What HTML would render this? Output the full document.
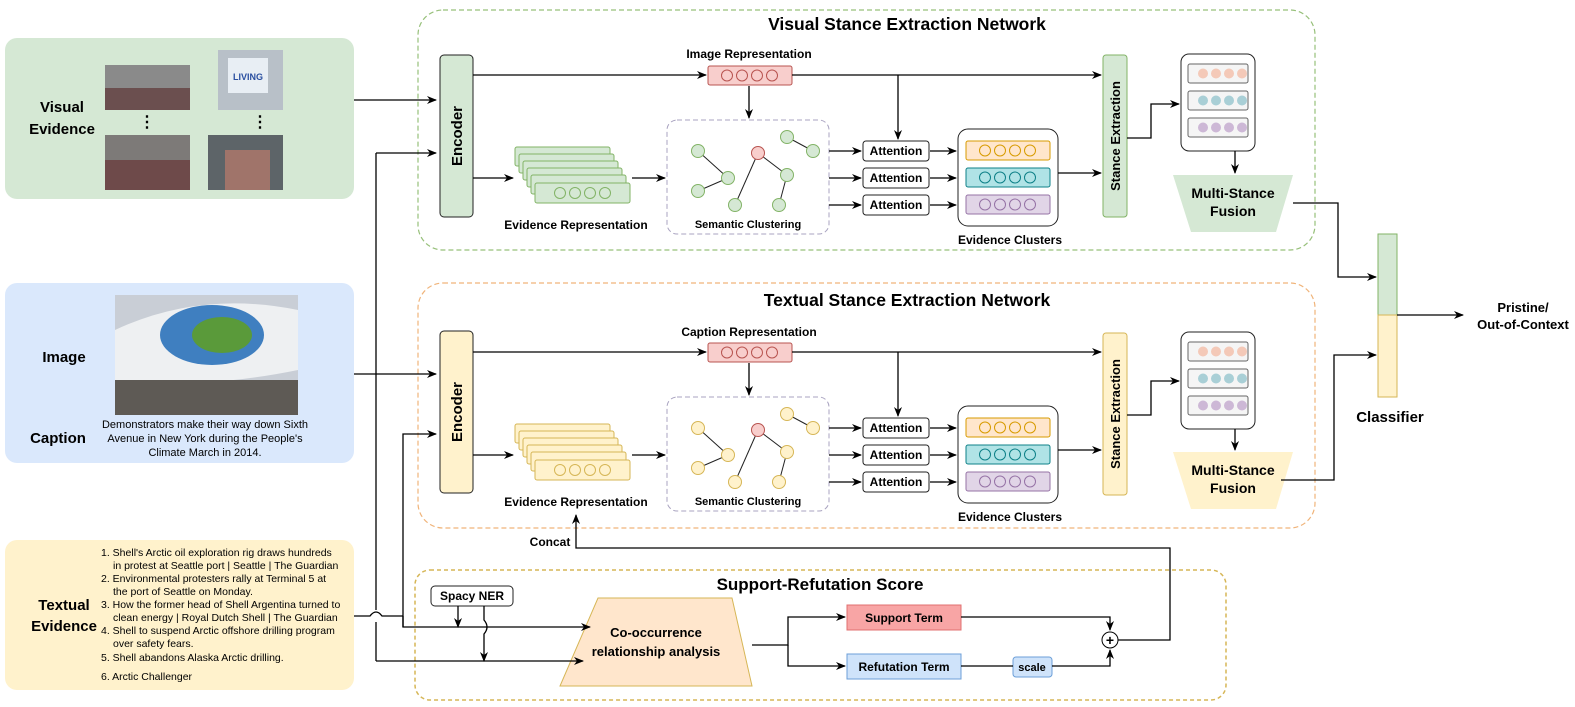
<!DOCTYPE html>
<html><head><meta charset="utf-8"><style>
html,body{margin:0;padding:0;background:#fff;}
svg{display:block;font-family:"Liberation Sans",Arial,sans-serif;}
.b{font-weight:bold;}
</style></head><body>
<svg width="1575" height="707" viewBox="0 0 1575 707" xmlns="http://www.w3.org/2000/svg">
<defs>
<marker id="a" markerWidth="10" markerHeight="8" refX="9" refY="4" orient="auto" markerUnits="userSpaceOnUse"><path d="M0,0 L10,4 L0,8 L3,4 z" fill="#000"/></marker>
<g id="vec"><circle cx="0" cy="0" r="5.5" fill="none"/><circle cx="15" cy="0" r="5.5" fill="none"/><circle cx="30" cy="0" r="5.5" fill="none"/><circle cx="45" cy="0" r="5.5" fill="none"/></g>
</defs>

<!-- left input boxes -->
<rect x="5" y="38" width="349" height="161" rx="12" fill="#d5e8d4"/>
<text x="62" y="112" text-anchor="middle" font-size="15" class="b">Visual</text>
<text x="62" y="134" text-anchor="middle" font-size="15" class="b">Evidence</text>
<rect x="105" y="65" width="85" height="45" fill="#8a8a8a"/><rect x="105" y="88" width="85" height="22" fill="#6b4f4f"/>
<rect x="218" y="50" width="65" height="60" fill="#b8c0c8"/><rect x="228" y="58" width="40" height="35" fill="#e8eef4"/>
<text x="248" y="80" text-anchor="middle" font-size="9" fill="#2a4fa0" class="b">LIVING</text>
<rect x="105" y="135" width="85" height="55" fill="#7d7a78"/><rect x="105" y="160" width="85" height="30" fill="#6e4a4a"/>
<rect x="208" y="135" width="75" height="55" fill="#5d6468"/><rect x="225" y="150" width="45" height="40" fill="#a0746a"/>
<text x="147" y="127" text-anchor="middle" font-size="16" class="b">⋮</text>
<text x="260" y="127" text-anchor="middle" font-size="16" class="b">⋮</text>

<rect x="5" y="283" width="349" height="180" rx="12" fill="#dae8fc"/>
<text x="64" y="362" text-anchor="middle" font-size="15" class="b">Image</text>
<text x="58" y="443" text-anchor="middle" font-size="15" class="b">Caption</text>
<rect x="115" y="295" width="183" height="120" fill="#c9ced6"/>
<path d="M115,330 Q200,290 298,310 L298,370 Q200,390 115,380 z" fill="#eef0f2"/>
<ellipse cx="212" cy="335" rx="52" ry="30" fill="#3f7fc0"/>
<ellipse cx="222" cy="335" rx="30" ry="18" fill="#5a9a3a"/>
<rect x="115" y="380" width="183" height="35" fill="#5e5a55"/>
<text font-size="11" text-anchor="middle"><tspan x="205" y="428">Demonstrators make their way down Sixth</tspan><tspan x="205" y="442">Avenue in New York during the People's</tspan><tspan x="205" y="456">Climate March in 2014.</tspan></text>

<rect x="5" y="540" width="349" height="150" rx="12" fill="#fff2cc"/>
<text x="64" y="610" text-anchor="middle" font-size="15" class="b">Textual</text>
<text x="64" y="631" text-anchor="middle" font-size="15" class="b">Evidence</text>
<text font-size="10.5"><tspan x="101" y="556">1. Shell's Arctic oil exploration rig draws hundreds</tspan><tspan x="113" y="569">in protest at Seattle port | Seattle | The Guardian</tspan><tspan x="101" y="582">2. Environmental protesters rally at Terminal 5 at</tspan><tspan x="113" y="595">the port of Seattle on Monday.</tspan><tspan x="101" y="608">3. How the former head of Shell Argentina turned to</tspan><tspan x="113" y="621">clean energy | Royal Dutch Shell | The Guardian</tspan><tspan x="101" y="634">4. Shell to suspend Arctic offshore drilling program</tspan><tspan x="113" y="647">over safety fears.</tspan><tspan x="101" y="661">5. Shell abandons Alaska Arctic drilling.</tspan><tspan x="101" y="680">6. Arctic Challenger</tspan></text>

<!-- dashed containers -->
<rect x="418" y="10" width="897" height="240" rx="25" fill="none" stroke="#97c07a" stroke-dasharray="5,3" stroke-width="1.2"/>
<text x="907" y="30" text-anchor="middle" font-size="17.5" class="b">Visual Stance Extraction Network</text>
<rect x="418" y="283" width="897" height="245" rx="25" fill="none" stroke="#f0b47a" stroke-dasharray="5,3" stroke-width="1.2"/>
<text x="907" y="306" text-anchor="middle" font-size="17.5" class="b">Textual Stance Extraction Network</text>
<rect x="415" y="570" width="811" height="130" rx="15" fill="none" stroke="#d6b656" stroke-dasharray="4,3" stroke-width="1.5"/>
<text x="820" y="590" text-anchor="middle" font-size="17" class="b">Support-Refutation Score</text>

<!-- VISUAL -->
<g>
<rect x="440" y="55" width="33" height="162" rx="4" fill="#d5e8d4" stroke="#222"/>
<text transform="translate(462,136) rotate(-90)" text-anchor="middle" font-size="15" class="b">Encoder</text>
<text x="749" y="58" text-anchor="middle" font-size="12" class="b">Image Representation</text>
<rect x="708" y="66" width="84" height="19" rx="2" fill="#f8cecc" stroke="#b85450"/>
<use href="#vec" x="727" y="75.5" stroke="#b85450"/>
<g fill="#d5e8d4" stroke="#82b366">
<rect x="515" y="147" width="95" height="19" rx="2"/><rect x="519" y="154" width="95" height="19" rx="2"/><rect x="523" y="161" width="95" height="19" rx="2"/><rect x="527" y="168" width="95" height="19" rx="2"/><rect x="531" y="175" width="95" height="19" rx="2"/><rect x="535" y="183" width="95" height="20" rx="2"/>
</g>
<use href="#vec" x="560" y="193" stroke="#82b366"/>
<text x="576" y="229" text-anchor="middle" font-size="12" class="b">Evidence Representation</text>
<rect x="667" y="120" width="162" height="114" rx="10" fill="none" stroke="#a9a3c0" stroke-dasharray="5,3"/>
<text x="748" y="228" text-anchor="middle" font-size="11" class="b">Semantic Clustering</text>
<g stroke="#222" stroke-width="1"><line x1="698" y1="151" x2="728" y2="178"/><line x1="698" y1="191" x2="728" y2="178"/><line x1="758" y1="153" x2="735" y2="205"/><line x1="758" y1="153" x2="787" y2="175"/><line x1="787" y1="175" x2="779" y2="205"/><line x1="787" y1="137" x2="813" y2="151"/></g>
<g fill="#d5e8d4" stroke="#82b366"><circle cx="698" cy="151" r="6.5"/><circle cx="728" cy="178" r="6.5"/><circle cx="698" cy="191" r="6.5"/><circle cx="787" cy="137" r="6.5"/><circle cx="813" cy="151" r="6.5"/><circle cx="787" cy="175" r="6.5"/><circle cx="735" cy="205" r="6.5"/><circle cx="779" cy="205" r="6.5"/></g>
<circle cx="758" cy="153" r="6.5" fill="#f8cecc" stroke="#b85450"/>
<g fill="#fff" stroke="#222"><rect x="863" y="141" width="66" height="20" rx="3"/><rect x="863" y="168" width="66" height="20" rx="3"/><rect x="863" y="195" width="66" height="20" rx="3"/></g>
<g font-size="12" class="b" text-anchor="middle"><text x="896" y="155">Attention</text><text x="896" y="182">Attention</text><text x="896" y="209">Attention</text></g>
<rect x="958" y="129" width="100" height="97" rx="10" fill="#fff" stroke="#222"/>
<rect x="966" y="141" width="84" height="19" rx="2" fill="#ffe6cc" stroke="#d79b00"/><use href="#vec" x="985" y="150.5" stroke="#d79b00"/>
<rect x="966" y="168" width="84" height="19" rx="2" fill="#b0e3e6" stroke="#0e8088"/><use href="#vec" x="985" y="177.5" stroke="#0e8088"/>
<rect x="966" y="195" width="84" height="19" rx="2" fill="#e1d5e7" stroke="#9673a6"/><use href="#vec" x="985" y="204.5" stroke="#9673a6"/>
<text x="1010" y="244" text-anchor="middle" font-size="12" class="b">Evidence Clusters</text>
<rect x="1103" y="55" width="24" height="162" rx="3" fill="#d5e8d4" stroke="#82b366"/>
<text transform="translate(1120,136) rotate(-90)" text-anchor="middle" font-size="13" class="b">Stance Extraction</text>
<rect x="1181" y="54" width="74" height="97" rx="8" fill="#fff" stroke="#222"/>
<g fill="#f5f5f5" stroke="#666"><rect x="1188" y="64" width="60" height="19" rx="2"/><rect x="1188" y="91" width="60" height="19" rx="2"/><rect x="1188" y="118" width="60" height="19" rx="2"/></g>
<g fill="#f4c9b8"><circle cx="1203" cy="73.5" r="5"/><circle cx="1216" cy="73.5" r="5"/><circle cx="1229" cy="73.5" r="5"/><circle cx="1242" cy="73.5" r="5"/></g>
<g fill="#a9cfd6"><circle cx="1203" cy="100.5" r="5"/><circle cx="1216" cy="100.5" r="5"/><circle cx="1229" cy="100.5" r="5"/><circle cx="1242" cy="100.5" r="5"/></g>
<g fill="#cdb8d6"><circle cx="1203" cy="127.5" r="5"/><circle cx="1216" cy="127.5" r="5"/><circle cx="1229" cy="127.5" r="5"/><circle cx="1242" cy="127.5" r="5"/></g>
<path d="M1173,175 L1293,175 L1276,232 L1191,232 z" fill="#d5e8d4"/>
<text x="1233" y="198" text-anchor="middle" font-size="14" class="b">Multi-Stance</text>
<text x="1233" y="216" text-anchor="middle" font-size="14" class="b">Fusion</text>
<g stroke="#000" stroke-width="1.3" fill="none" marker-end="url(#a)">
<path d="M473,75 L706,75"/><path d="M792,75 L1101,75"/><path d="M898,75 L898,139"/><path d="M749,86 L749,118"/>
<path d="M473,178 L513,178"/><path d="M632,178 L665,178"/>
<path d="M829,151 L861,151"/><path d="M829,178 L861,178"/><path d="M829,205 L861,205"/>
<path d="M930,151 L956,151"/><path d="M930,178 L956,178"/><path d="M930,205 L956,205"/>
<path d="M1058,173 L1101,173"/><path d="M1127,138 L1151,138 L1151,104 L1179,104"/><path d="M1235,151 L1235,173"/>
</g>
</g>

<!-- TEXTUAL -->
<g>
<rect x="440" y="331" width="33" height="162" rx="4" fill="#fff2cc" stroke="#222"/>
<text transform="translate(462,412) rotate(-90)" text-anchor="middle" font-size="15" class="b">Encoder</text>
<text x="749" y="336" text-anchor="middle" font-size="12" class="b">Caption Representation</text>
<rect x="708" y="343" width="84" height="19" rx="2" fill="#f8cecc" stroke="#b85450"/>
<use href="#vec" x="727" y="352.5" stroke="#b85450"/>
<g fill="#fff2cc" stroke="#d6b656">
<rect x="515" y="424" width="95" height="19" rx="2"/><rect x="519" y="431" width="95" height="19" rx="2"/><rect x="523" y="438" width="95" height="19" rx="2"/><rect x="527" y="445" width="95" height="19" rx="2"/><rect x="531" y="452" width="95" height="19" rx="2"/><rect x="535" y="460" width="95" height="20" rx="2"/>
</g>
<use href="#vec" x="560" y="470" stroke="#d6b656"/>
<text x="576" y="506" text-anchor="middle" font-size="12" class="b">Evidence Representation</text>
<rect x="667" y="397" width="162" height="114" rx="10" fill="none" stroke="#a9a3c0" stroke-dasharray="5,3"/>
<text x="748" y="505" text-anchor="middle" font-size="11" class="b">Semantic Clustering</text>
<g stroke="#222" stroke-width="1"><line x1="698" y1="428" x2="728" y2="455"/><line x1="698" y1="468" x2="728" y2="455"/><line x1="758" y1="430" x2="735" y2="482"/><line x1="758" y1="430" x2="787" y2="452"/><line x1="787" y1="452" x2="779" y2="482"/><line x1="787" y1="414" x2="813" y2="428"/></g>
<g fill="#fff2cc" stroke="#d6b656"><circle cx="698" cy="428" r="6.5"/><circle cx="728" cy="455" r="6.5"/><circle cx="698" cy="468" r="6.5"/><circle cx="787" cy="414" r="6.5"/><circle cx="813" cy="428" r="6.5"/><circle cx="787" cy="452" r="6.5"/><circle cx="735" cy="482" r="6.5"/><circle cx="779" cy="482" r="6.5"/></g>
<circle cx="758" cy="430" r="6.5" fill="#f8cecc" stroke="#b85450"/>
<g fill="#fff" stroke="#222"><rect x="863" y="418" width="66" height="20" rx="3"/><rect x="863" y="445" width="66" height="20" rx="3"/><rect x="863" y="472" width="66" height="20" rx="3"/></g>
<g font-size="12" class="b" text-anchor="middle"><text x="896" y="432">Attention</text><text x="896" y="459">Attention</text><text x="896" y="486">Attention</text></g>
<rect x="958" y="406" width="100" height="97" rx="10" fill="#fff" stroke="#222"/>
<rect x="966" y="418" width="84" height="19" rx="2" fill="#ffe6cc" stroke="#d79b00"/><use href="#vec" x="985" y="427.5" stroke="#d79b00"/>
<rect x="966" y="445" width="84" height="19" rx="2" fill="#b0e3e6" stroke="#0e8088"/><use href="#vec" x="985" y="454.5" stroke="#0e8088"/>
<rect x="966" y="472" width="84" height="19" rx="2" fill="#e1d5e7" stroke="#9673a6"/><use href="#vec" x="985" y="481.5" stroke="#9673a6"/>
<text x="1010" y="521" text-anchor="middle" font-size="12" class="b">Evidence Clusters</text>
<rect x="1103" y="333" width="24" height="162" rx="3" fill="#fff2cc" stroke="#d6b656"/>
<text transform="translate(1120,414) rotate(-90)" text-anchor="middle" font-size="13" class="b">Stance Extraction</text>
<rect x="1181" y="332" width="74" height="97" rx="8" fill="#fff" stroke="#222"/>
<g fill="#f5f5f5" stroke="#666"><rect x="1188" y="342" width="60" height="19" rx="2"/><rect x="1188" y="369" width="60" height="19" rx="2"/><rect x="1188" y="396" width="60" height="19" rx="2"/></g>
<g fill="#f4c9b8"><circle cx="1203" cy="351.5" r="5"/><circle cx="1216" cy="351.5" r="5"/><circle cx="1229" cy="351.5" r="5"/><circle cx="1242" cy="351.5" r="5"/></g>
<g fill="#a9cfd6"><circle cx="1203" cy="378.5" r="5"/><circle cx="1216" cy="378.5" r="5"/><circle cx="1229" cy="378.5" r="5"/><circle cx="1242" cy="378.5" r="5"/></g>
<g fill="#cdb8d6"><circle cx="1203" cy="405.5" r="5"/><circle cx="1216" cy="405.5" r="5"/><circle cx="1229" cy="405.5" r="5"/><circle cx="1242" cy="405.5" r="5"/></g>
<path d="M1173,452 L1293,452 L1276,509 L1191,509 z" fill="#fff2cc"/>
<text x="1233" y="475" text-anchor="middle" font-size="14" class="b">Multi-Stance</text>
<text x="1233" y="493" text-anchor="middle" font-size="14" class="b">Fusion</text>
<g stroke="#000" stroke-width="1.3" fill="none" marker-end="url(#a)">
<path d="M473,352 L706,352"/><path d="M792,352 L1101,352"/><path d="M898,352 L898,416"/><path d="M749,363 L749,395"/>
<path d="M473,455 L513,455"/><path d="M632,455 L665,455"/>
<path d="M829,428 L861,428"/><path d="M829,455 L861,455"/><path d="M829,482 L861,482"/>
<path d="M930,428 L956,428"/><path d="M930,455 L956,455"/><path d="M930,482 L956,482"/>
<path d="M1058,450 L1101,450"/><path d="M1127,415 L1151,415 L1151,381 L1179,381"/><path d="M1235,429 L1235,450"/>
</g>
</g>

<!-- classifier -->
<rect x="1378" y="234" width="19" height="81" fill="#d5e8d4" stroke="#82b366"/>
<rect x="1378" y="315" width="19" height="82" fill="#fff2cc" stroke="#d6b656"/>
<text x="1390" y="422" text-anchor="middle" font-size="15" class="b">Classifier</text>
<text x="1523" y="312" text-anchor="middle" font-size="13" class="b">Pristine/</text>
<text x="1523" y="329" text-anchor="middle" font-size="13" class="b">Out-of-Context</text>

<!-- support refutation -->
<rect x="431" y="586" width="82" height="20" rx="4" fill="#fff" stroke="#222"/>
<text x="472" y="600" text-anchor="middle" font-size="12" class="b">Spacy NER</text>
<path d="M598,598 L732,598 L752,686 L560,686 z" fill="#ffe6cc" stroke="#d6b656"/>
<text x="656" y="637" text-anchor="middle" font-size="13" class="b">Co-occurrence</text>
<text x="656" y="656" text-anchor="middle" font-size="13" class="b">relationship analysis</text>
<rect x="847" y="605" width="114" height="25" fill="#f8a5a5" stroke="#e07070"/>
<text x="904" y="622" text-anchor="middle" font-size="12" class="b">Support Term</text>
<rect x="847" y="654" width="114" height="25" fill="#cfe3fa" stroke="#6c9fd8"/>
<text x="904" y="671" text-anchor="middle" font-size="12" class="b">Refutation Term</text>
<rect x="1013" y="657" width="39" height="20" rx="3" fill="#cfe3fa" stroke="#6c9fd8"/>
<text x="1032" y="671" text-anchor="middle" font-size="11" class="b">scale</text>
<circle cx="1110" cy="640" r="8" fill="#fff" stroke="#000"/>
<text x="1110" y="645" text-anchor="middle" font-size="14" class="b">+</text>
<text x="550" y="546" text-anchor="middle" font-size="12" class="b">Concat</text>

<g stroke="#000" stroke-width="1.3" fill="none">
<path d="M354,100 L436,100" marker-end="url(#a)"/>
<path d="M354,374 L436,374" marker-end="url(#a)"/>
<path d="M376,153 L376,610 M376,622 L376,661"/>
<path d="M376,153 L436,153" marker-end="url(#a)"/>
<path d="M376,661 L583,661" marker-end="url(#a)"/>
<path d="M354,616 L370,616 Q376,608 382,616 L403,616"/>
<path d="M403,627 L403,434 L436,434" marker-end="url(#a)"/>
<path d="M403,616 L403,627 L590,627" marker-end="url(#a)"/>
<path d="M458,606 L458,627" marker-end="url(#a)"/>
<path d="M484,606 L484,620 Q490,627 484,634 L484,661" marker-end="url(#a)"/>
<path d="M752,645 L788,645 L788,617 L845,617" marker-end="url(#a)"/>
<path d="M788,645 L788,666 L845,666" marker-end="url(#a)"/>
<path d="M961,617 L1110,617 L1110,630" marker-end="url(#a)"/>
<path d="M961,666 L1013,666 M1052,666 L1110,666 L1110,650" marker-end="url(#a)"/>
<path d="M1118,640 L1170,640 L1170,548 L576,548 L576,515" marker-end="url(#a)"/>
<path d="M1293,203 L1338,203 L1338,277 L1376,277" marker-end="url(#a)"/>
<path d="M1281,480 L1334,480 L1334,355 L1376,355" marker-end="url(#a)"/>
<path d="M1397,315 L1463,315" marker-end="url(#a)"/>
</g>
</svg>
</body></html>
